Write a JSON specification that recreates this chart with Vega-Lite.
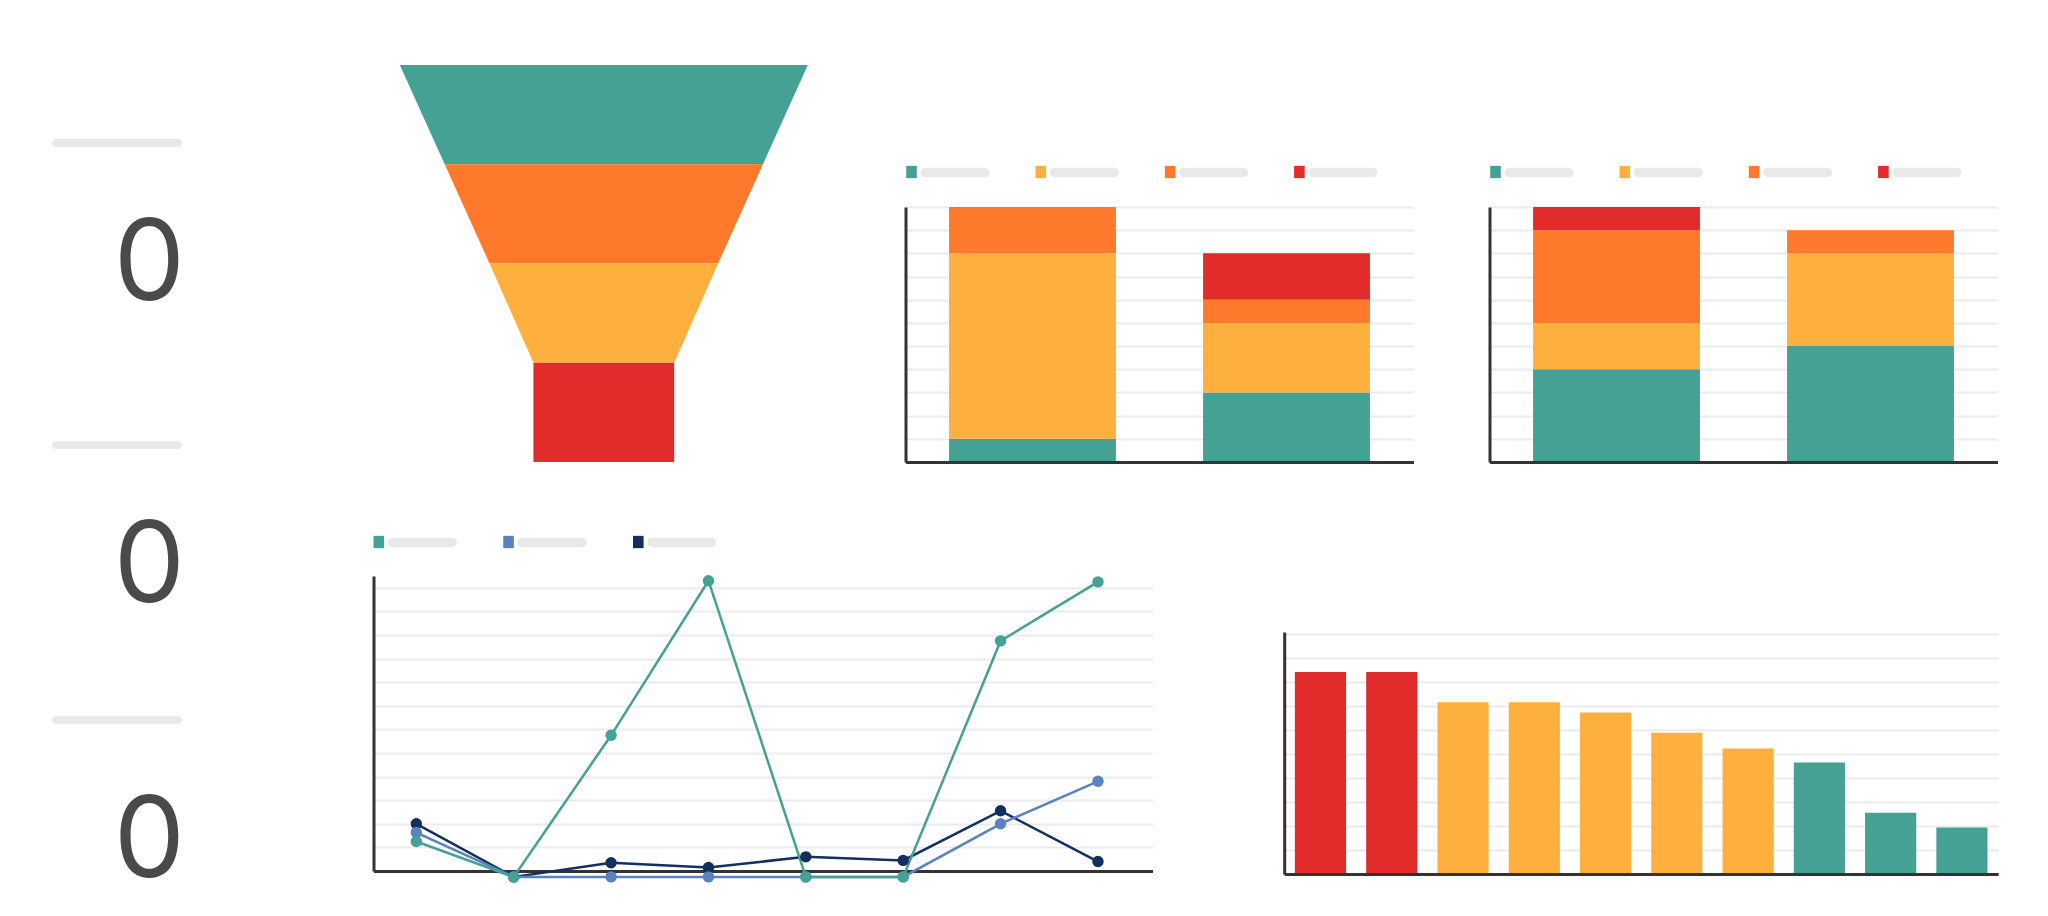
{
  "$schema": "https://vega.github.io/schema/vega-lite/v6.json",
  "usermeta": {"embedOptions": {"actions": false}},
  "background": "#ffffff",
  "padding": {"left": 52, "top": 65, "right": 0, "bottom": 30},
  "autosize": {"type": "pad"},
  "config": {
    "view": {"stroke": null},
    "axis": {"labels": false, "ticks": false, "domainColor": "#333333", "domainWidth": 3, "gridColor": "#EBEBEB", "gridWidth": 2, "minExtent": 0}
  },
  "datasets": {
    "kpi": [
      {"kpi": "KPI 1", "value": 0},
      {"kpi": "KPI 2", "value": 0},
      {"kpi": "KPI 3", "value": 0}
    ],
    "funnel": [
      {"stage": "Stage 1", "level": 0, "lo": -50, "hi": 50},
      {"stage": "Stage 1", "level": 1, "lo": -39, "hi": 39},
      {"stage": "Stage 2", "level": 1, "lo": -39, "hi": 39},
      {"stage": "Stage 2", "level": 2, "lo": -28, "hi": 28},
      {"stage": "Stage 3", "level": 2, "lo": -28, "hi": 28},
      {"stage": "Stage 3", "level": 3, "lo": -17.25, "hi": 17.25},
      {"stage": "Stage 4", "level": 3, "lo": -17.25, "hi": 17.25},
      {"stage": "Stage 4", "level": 4, "lo": -17.25, "hi": 17.25}
    ],
    "stackSeries": [
      {"series": "Series 1"}, {"series": "Series 2"}, {"series": "Series 3"}, {"series": "Series 4"}
    ],
    "stackLeft": [
      {"group": "A", "series": "Series 1", "count": 1},
      {"group": "A", "series": "Series 2", "count": 8},
      {"group": "A", "series": "Series 3", "count": 2},
      {"group": "B", "series": "Series 1", "count": 3},
      {"group": "B", "series": "Series 2", "count": 3},
      {"group": "B", "series": "Series 3", "count": 1},
      {"group": "B", "series": "Series 4", "count": 2}
    ],
    "stackRight": [
      {"group": "A", "series": "Series 1", "count": 4},
      {"group": "A", "series": "Series 2", "count": 2},
      {"group": "A", "series": "Series 3", "count": 4},
      {"group": "A", "series": "Series 4", "count": 1},
      {"group": "B", "series": "Series 1", "count": 5},
      {"group": "B", "series": "Series 2", "count": 4},
      {"group": "B", "series": "Series 3", "count": 1}
    ],
    "lineSeries": [
      {"series": "Series A"}, {"series": "Series B"}, {"series": "Series C"}
    ],
    "lines": [
      {"period": "P1", "series": "Series C", "value": 2.25},
      {"period": "P2", "series": "Series C", "value": 0},
      {"period": "P3", "series": "Series C", "value": 0.6},
      {"period": "P4", "series": "Series C", "value": 0.4},
      {"period": "P5", "series": "Series C", "value": 0.85},
      {"period": "P6", "series": "Series C", "value": 0.7},
      {"period": "P7", "series": "Series C", "value": 2.8},
      {"period": "P8", "series": "Series C", "value": 0.65},
      {"period": "P1", "series": "Series B", "value": 1.88},
      {"period": "P2", "series": "Series B", "value": 0},
      {"period": "P3", "series": "Series B", "value": 0},
      {"period": "P4", "series": "Series B", "value": 0},
      {"period": "P5", "series": "Series B", "value": 0},
      {"period": "P6", "series": "Series B", "value": 0},
      {"period": "P7", "series": "Series B", "value": 2.25},
      {"period": "P8", "series": "Series B", "value": 4.05},
      {"period": "P1", "series": "Series A", "value": 1.5},
      {"period": "P2", "series": "Series A", "value": 0},
      {"period": "P3", "series": "Series A", "value": 6},
      {"period": "P4", "series": "Series A", "value": 12.55},
      {"period": "P5", "series": "Series A", "value": 0},
      {"period": "P6", "series": "Series A", "value": 0},
      {"period": "P7", "series": "Series A", "value": 10},
      {"period": "P8", "series": "Series A", "value": 12.5}
    ],
    "bars": [
      {"item": "Item 01", "tier": "High", "value": 8.43},
      {"item": "Item 02", "tier": "High", "value": 8.43},
      {"item": "Item 03", "tier": "Medium", "value": 7.17},
      {"item": "Item 04", "tier": "Medium", "value": 7.17},
      {"item": "Item 05", "tier": "Medium", "value": 6.74},
      {"item": "Item 06", "tier": "Medium", "value": 5.9},
      {"item": "Item 07", "tier": "Medium", "value": 5.24},
      {"item": "Item 08", "tier": "Low", "value": 4.65},
      {"item": "Item 09", "tier": "Low", "value": 2.56},
      {"item": "Item 10", "tier": "Low", "value": 1.94}
    ]
  },
  "bounds": "full",
  "spacing": 187.5,
  "resolve": {"scale": {"color": "independent"}},
  "hconcat": [
    {
      "bounds": "flush",
      "spacing": 0,
      "vconcat": [
        {"width": 130, "height": 78, "data": {"values": []}, "mark": "point"},
        {
          "width": 130, "height": 302,
          "data": {"name": "kpi"},
          "transform": [{"filter": "datum.kpi === 'KPI 1'"}],
          "layer": [
            {
              "mark": {"type": "tick", "orient": "horizontal", "size": 130, "thickness": 8, "cornerRadius": 4, "color": "#E9E9E9", "opacity": 1},
              "encoding": {"y": {"datum": "label", "type": "ordinal", "scale": {"type": "point", "domain": ["label", "value"], "padding": 0.7276, "align": 0}, "axis": null}}
            },
            {
              "mark": {"type": "text", "x": "width", "align": "right", "baseline": "middle", "dx": 3, "font": "Inter", "fontSize": 113, "color": "#4A4A4A"},
              "encoding": {"y": {"datum": "value", "type": "ordinal"}, "text": {"field": "value", "type": "quantitative"}}
            }
          ]
        },
        {
          "width": 130, "height": 275,
          "data": {"name": "kpi"},
          "transform": [{"filter": "datum.kpi === 'KPI 2'"}],
          "layer": [
            {
              "mark": {"type": "tick", "orient": "horizontal", "size": 130, "thickness": 8, "cornerRadius": 4, "color": "#E9E9E9", "opacity": 1},
              "encoding": {"y": {"datum": "label", "type": "ordinal", "scale": {"type": "point", "domain": ["label", "value"], "padding": 0.6179, "align": 0}, "axis": null}}
            },
            {
              "mark": {"type": "text", "x": "width", "align": "right", "baseline": "middle", "dx": 3, "font": "Inter", "fontSize": 113, "color": "#4A4A4A"},
              "encoding": {"y": {"datum": "value", "type": "ordinal"}, "text": {"field": "value", "type": "quantitative"}}
            }
          ]
        },
        {
          "width": 130, "height": 160,
          "data": {"name": "kpi"},
          "transform": [{"filter": "datum.kpi === 'KPI 3'"}],
          "layer": [
            {
              "mark": {"type": "tick", "orient": "horizontal", "size": 130, "thickness": 8, "cornerRadius": 4, "color": "#E9E9E9", "opacity": 1},
              "encoding": {"y": {"datum": "label", "type": "ordinal", "scale": {"type": "point", "domain": ["label", "value"], "padding": 0.1504, "align": 0}, "axis": null}}
            },
            {
              "mark": {"type": "text", "x": "width", "align": "right", "baseline": "middle", "dx": 3, "font": "Inter", "fontSize": 113, "color": "#4A4A4A"},
              "encoding": {"y": {"datum": "value", "type": "ordinal"}, "text": {"field": "value", "type": "quantitative"}}
            }
          ]
        }
      ]
    },
    {
      "bounds": "full",
      "spacing": 37,
      "resolve": {"scale": {"color": "independent"}},
      "vconcat": [
        {
          "bounds": "full",
          "spacing": 76,
          "resolve": {"scale": {"color": "independent"}},
          "hconcat": [
            {
              "width": 456, "height": 397,
              "data": {"name": "funnel"},
              "mark": {"type": "area", "orient": "horizontal", "opacity": 1},
              "encoding": {
                "y": {"field": "level", "type": "quantitative", "scale": {"domain": [0, 4], "reverse": true, "nice": false, "zero": false}, "axis": null},
                "x": {"field": "lo", "type": "quantitative", "stack": null, "scale": {"domain": [-56.45, 55.31], "nice": false, "zero": false}, "axis": null},
                "x2": {"field": "hi"},
                "color": {"field": "stage", "type": "nominal", "scale": {"domain": ["Stage 1", "Stage 2", "Stage 3", "Stage 4"], "range": ["#46A195", "#FE792B", "#FEB03F", "#E12C2B"]}, "legend": null}
              }
            },
            {
              "bounds": "flush",
              "spacing": 35,
              "resolve": {"scale": {"color": "independent"}},
              "vconcat": [
                {
                  "width": 508, "height": 107,
                  "data": {"name": "stackSeries"},
                  "encoding": {
                    "x": {"field": "series", "type": "nominal", "scale": {"type": "point", "padding": 0.4644, "align": 0.05}, "axis": null},
                    "y": {"value": "height"}
                  },
                  "layer": [
                    {
                      "mark": {"type": "point", "shape": "M-5.3,-6.15H5.3V6.15H-5.3Z", "size": 4, "filled": true, "opacity": 1, "strokeWidth": 0},
                      "encoding": {"color": {"field": "series", "type": "nominal", "scale": {"domain": ["Series 1", "Series 2", "Series 3", "Series 4"], "range": ["#46A195", "#FEB03F", "#FE792B", "#E12C2B"]}, "legend": null}}
                    },
                    {
                      "mark": {"type": "point", "shape": "M13.7,-4.2H73.3A4.7,4.7 0 0 1 73.3,5.2H13.7A4.7,4.7 0 0 1 13.7,-4.2Z", "size": 4, "filled": true, "opacity": 1, "strokeWidth": 0, "color": "#E9E9E9"}
                    }
                  ]
                },
                {
                  "width": 508, "height": 255,
                  "data": {"name": "stackLeft"},
                  "mark": {"type": "bar"},
                  "encoding": {
                    "x": {"field": "group", "type": "nominal", "scale": {"paddingInner": 0.343, "paddingOuter": 0.1715}, "axis": {"title": null, "zindex": 1}},
                    "y": {"field": "count", "type": "quantitative", "stack": "zero", "scale": {"domain": [0, 11], "nice": false}, "axis": {"title": null, "grid": true, "values": [1, 2, 3, 4, 5, 6, 7, 8, 9, 10, 11]}},
                    "color": {"field": "series", "type": "nominal", "scale": {"domain": ["Series 1", "Series 2", "Series 3", "Series 4"], "range": ["#46A195", "#FEB03F", "#FE792B", "#E12C2B"]}, "legend": null},
                    "order": {"field": "series", "type": "ordinal", "sort": "ascending"}
                  }
                }
              ]
            },
            {
              "bounds": "flush",
              "spacing": 35,
              "resolve": {"scale": {"color": "independent"}},
              "vconcat": [
                {
                  "width": 508, "height": 107,
                  "data": {"name": "stackSeries"},
                  "encoding": {
                    "x": {"field": "series", "type": "nominal", "scale": {"type": "point", "padding": 0.4644, "align": 0.05}, "axis": null},
                    "y": {"value": "height"}
                  },
                  "layer": [
                    {
                      "mark": {"type": "point", "shape": "M-5.3,-6.15H5.3V6.15H-5.3Z", "size": 4, "filled": true, "opacity": 1, "strokeWidth": 0},
                      "encoding": {"color": {"field": "series", "type": "nominal", "scale": {"domain": ["Series 1", "Series 2", "Series 3", "Series 4"], "range": ["#46A195", "#FEB03F", "#FE792B", "#E12C2B"]}, "legend": null}}
                    },
                    {
                      "mark": {"type": "point", "shape": "M13.7,-4.2H73.3A4.7,4.7 0 0 1 73.3,5.2H13.7A4.7,4.7 0 0 1 13.7,-4.2Z", "size": 4, "filled": true, "opacity": 1, "strokeWidth": 0, "color": "#E9E9E9"}
                    }
                  ]
                },
                {
                  "width": 508, "height": 255,
                  "data": {"name": "stackRight"},
                  "mark": {"type": "bar"},
                  "encoding": {
                    "x": {"field": "group", "type": "nominal", "scale": {"paddingInner": 0.343, "paddingOuter": 0.1715}, "axis": {"title": null, "zindex": 1}},
                    "y": {"field": "count", "type": "quantitative", "stack": "zero", "scale": {"domain": [0, 11], "nice": false}, "axis": {"title": null, "grid": true, "values": [1, 2, 3, 4, 5, 6, 7, 8, 9, 10, 11]}},
                    "color": {"field": "series", "type": "nominal", "scale": {"domain": ["Series 1", "Series 2", "Series 3", "Series 4"], "range": ["#46A195", "#FEB03F", "#FE792B", "#E12C2B"]}, "legend": null},
                    "order": {"field": "series", "type": "ordinal", "sort": "ascending"}
                  }
                }
              ]
            }
          ]
        },
        {
          "bounds": "full",
          "spacing": 131.7,
          "resolve": {"scale": {"color": "independent"}},
          "hconcat": [
            {
              "bounds": "flush",
              "spacing": 34,
              "resolve": {"scale": {"color": "independent"}},
              "vconcat": [
                {
                  "width": 519, "height": 43,
                  "data": {"name": "lineSeries"},
                  "encoding": {
                    "x": {"field": "series", "type": "nominal", "scale": {"type": "point", "padding": 1, "align": 0.0204}, "axis": null},
                    "y": {"value": "height"}
                  },
                  "layer": [
                    {
                      "mark": {"type": "point", "shape": "M-5.3,-6.15H5.3V6.15H-5.3Z", "size": 4, "filled": true, "opacity": 1, "strokeWidth": 0},
                      "encoding": {"color": {"field": "series", "type": "nominal", "scale": {"domain": ["Series A", "Series B", "Series C"], "range": ["#46A195", "#5A82BE", "#132F60"]}, "legend": null}}
                    },
                    {
                      "mark": {"type": "point", "shape": "M13.7,-4.2H73.3A4.7,4.7 0 0 1 73.3,5.2H13.7A4.7,4.7 0 0 1 13.7,-4.2Z", "size": 4, "filled": true, "opacity": 1, "strokeWidth": 0, "color": "#E9E9E9"}
                    }
                  ]
                },
                {
                  "width": 779, "height": 295,
                  "data": {"name": "lines"},
                  "mark": {"type": "line", "strokeWidth": 2.5, "point": {"filled": true, "size": 130, "opacity": 1}},
                  "encoding": {
                    "x": {"field": "period", "type": "ordinal", "scale": {"type": "point", "padding": 0.5, "align": 0.44}, "axis": {"title": null}},
                    "y": {"field": "value", "type": "quantitative", "scale": {"domain": [0.25, 12.75], "nice": false, "zero": false}, "axis": {"title": null, "grid": true, "values": [1.25, 2.25, 3.25, 4.25, 5.25, 6.25, 7.25, 8.25, 9.25, 10.25, 11.25, 12.25]}},
                    "color": {"field": "series", "type": "nominal", "scale": {"domain": ["Series A", "Series B", "Series C"], "range": ["#46A195", "#5A82BE", "#132F60"]}, "legend": null}
                  }
                }
              ]
            },
            {
              "bounds": "flush",
              "spacing": 0,
              "vconcat": [
                {"width": 714, "height": 133, "data": {"values": []}, "mark": "point"},
                {
                  "width": 714, "height": 242,
                  "data": {"name": "bars"},
                  "mark": {"type": "bar"},
                  "encoding": {
                    "x": {"field": "item", "type": "nominal", "sort": null, "scale": {"paddingInner": 0.282, "paddingOuter": 0.15}, "axis": {"title": null, "zindex": 1}},
                    "y": {"field": "value", "type": "quantitative", "scale": {"domain": [0, 10.1], "nice": false}, "axis": {"title": null, "grid": true, "values": [0, 1, 2, 3, 4, 5, 6, 7, 8, 9, 10]}},
                    "color": {"field": "tier", "type": "nominal", "scale": {"domain": ["High", "Medium", "Low"], "range": ["#E12C2B", "#FEB03F", "#46A195"]}, "legend": null}
                  }
                }
              ]
            }
          ]
        }
      ]
    }
  ]
}
